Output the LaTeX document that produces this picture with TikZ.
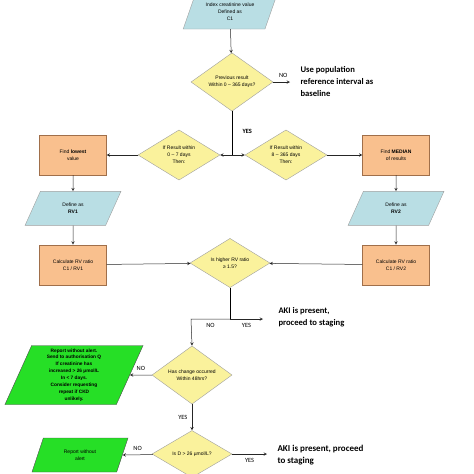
\documentclass[tikz,border=0pt]{standalone}
\usepackage{fontspec}
\setmainfont{Liberation Sans}
\newfontfamily\notefont{Carlito}
\usetikzlibrary{shapes.geometric, positioning, arrows}
\definecolor{decfill}{HTML}{FAF29C}
\definecolor{procfill}{HTML}{F9C08E}
\definecolor{procline}{HTML}{A06F4A}
\definecolor{datafill}{HTML}{B9DEE4}
\definecolor{alertfill}{HTML}{26DF26}
\tikzset{
x=1pt, y=-1pt, % work in pixels of the page, y going down
>=stealth, % makes the arrow heads bold
node distance=16pt, % gap between boxes in a column
box text/.style={font=\fontsize{5}{7}\selectfont, align=center, inner sep=0pt},
decision/.style={box text, diamond, draw=gray!75, fill=decfill, minimum width=82pt, minimum height=47pt},
process/.style={box text, rectangle, draw=procline, fill=procfill, minimum width=67pt, minimum height=40pt},
data/.style={box text, trapezium, trapezium left angle=65, trapezium right angle=115, trapezium stretches=true, draw=gray!75, fill=datafill, minimum width=96pt, minimum height=34pt},
alert/.style={data, draw=gray!60!black, fill=alertfill},
flow/.style={->, line width=0.5pt, draw=black!85},
answer/.style={font=\notefont\fontsize{6.4}{7}\selectfont},
note/.style={font=\notefont\bfseries\fontsize{8.6}{12}\selectfont, align=left, anchor=west},
}
\begin{document}
\begin{tikzpicture}
\useasboundingbox (0,0) rectangle (474,474);

% top of the chart
\node[data, minimum width=94pt] (index) at (230,12) {Index creatinine value\\Defined as\\C1};
\node[decision] (prev) at (232,82) {Previous result\\Within 0 -- 365 days?};
\coordinate (noprev) at (290,82);
\node[note] (popref) at (297,82) {Use population\\reference interval as\\baseline};

% the two branches
\coordinate (split) at (232,155);
\node[decision] (week) at (179,155) {If Result within\\0 -- 7 days\\Then:};
\node[decision] (year) at (286,155) {If Result within\\8 -- 365 days\\Then:};
\node[process] (lowest) at (73,155) {Find \textbf{lowest}\\value};
\node[data, below=of lowest] (rv1) {Define as\\\textbf{RV1}};
\node[process, below=19pt of rv1] (calc1) {Calculate RV ratio\\C1 / RV1};
\node[process] (median) at (396,155) {Find \textbf{MEDIAN}\\of results};
\node[data, below=of median] (rv2) {Define as\\\textbf{RV2}};
\node[process, below=19pt of rv2] (calc2) {Calculate RV ratio\\C1 / RV2};

% ratio check
\node[decision, minimum width=80pt] (ratio) at (230,263) {Is higher RV ratio\\≥ 1.5?};
\coordinate (fork) at (230,319);
\coordinate (forkno) at (191,319);
\coordinate (forkyes) at (263,319);
\node[note] (aki1) at (275,317) {AKI is present,\\proceed to staging};

% lower checks
\node[decision, minimum width=80pt] (hrs) at (192,375) {Has change occurred\\Within 48hrs?};
\node[alert, trapezium left angle=72, trapezium right angle=108, minimum width=139pt, minimum height=59pt, font=\bfseries\fontsize{4.8}{6.9}\selectfont] (report1) at (74,375)
  {Report without alert.\\Send to authorisation Q\\If creatinine has\\increased > 26 µmol/L\\In < 7 days.\\Consider requesting\\repeat if CKD\\unlikely.};
\node[decision, minimum width=80pt] (delta) at (192,454) {Is D > 26 µmol/L?};
\node[alert] (report2) at (80,455) {Report without\\alert};
\coordinate (deltayes) at (267,454);
\node[note, font=\notefont\bfseries\fontsize{9}{12}\selectfont] (aki2) at (274,455) {AKI is present, proceed\\to staging};

% connectors
\draw[flow] (index) -- (prev);
\draw[flow] (prev) -- (noprev) node[answer, pos=0.6, above=1pt] {NO};
\draw[line width=0.5pt] (prev) -- (split) node[answer, font=\notefont\bfseries\fontsize{6.4}{7}\selectfont, pos=0.47, right=7pt] {YES};
\draw[flow] (split) -- (week.east);
\draw[flow] (split) -- (year.west);
\draw[flow] (week) -- (lowest);
\draw[flow] (year) -- (median);
\draw[flow] (lowest) -- (rv1);
\draw[flow] (rv1) -- (calc1);
\draw[flow] (median) -- (rv2);
\draw[flow] (rv2) -- (calc2);
\draw[flow] (calc1) -- (ratio);
\draw[flow] (calc2) -- (ratio);
\draw[line width=0.5pt] (ratio) -- (fork);
\draw[flow] (fork) -- (forkyes) node[answer, midway, below=1pt] {YES};
\draw[flow] (fork) -- (forkno) node[answer, midway, below=1pt] {NO} -- (hrs.north);
\draw[flow] (hrs) -- (report1.east) node[answer, midway, above=1pt] {NO};
\draw[flow] (hrs) -- (delta) node[answer, midway, left=1pt] {YES};
\draw[flow] (delta) -- (report2.east) node[answer, midway, above=1pt] {NO};
\draw[flow] (delta) -- (deltayes) node[answer, midway, below=1pt] {YES};
\end{tikzpicture}
\end{document}
